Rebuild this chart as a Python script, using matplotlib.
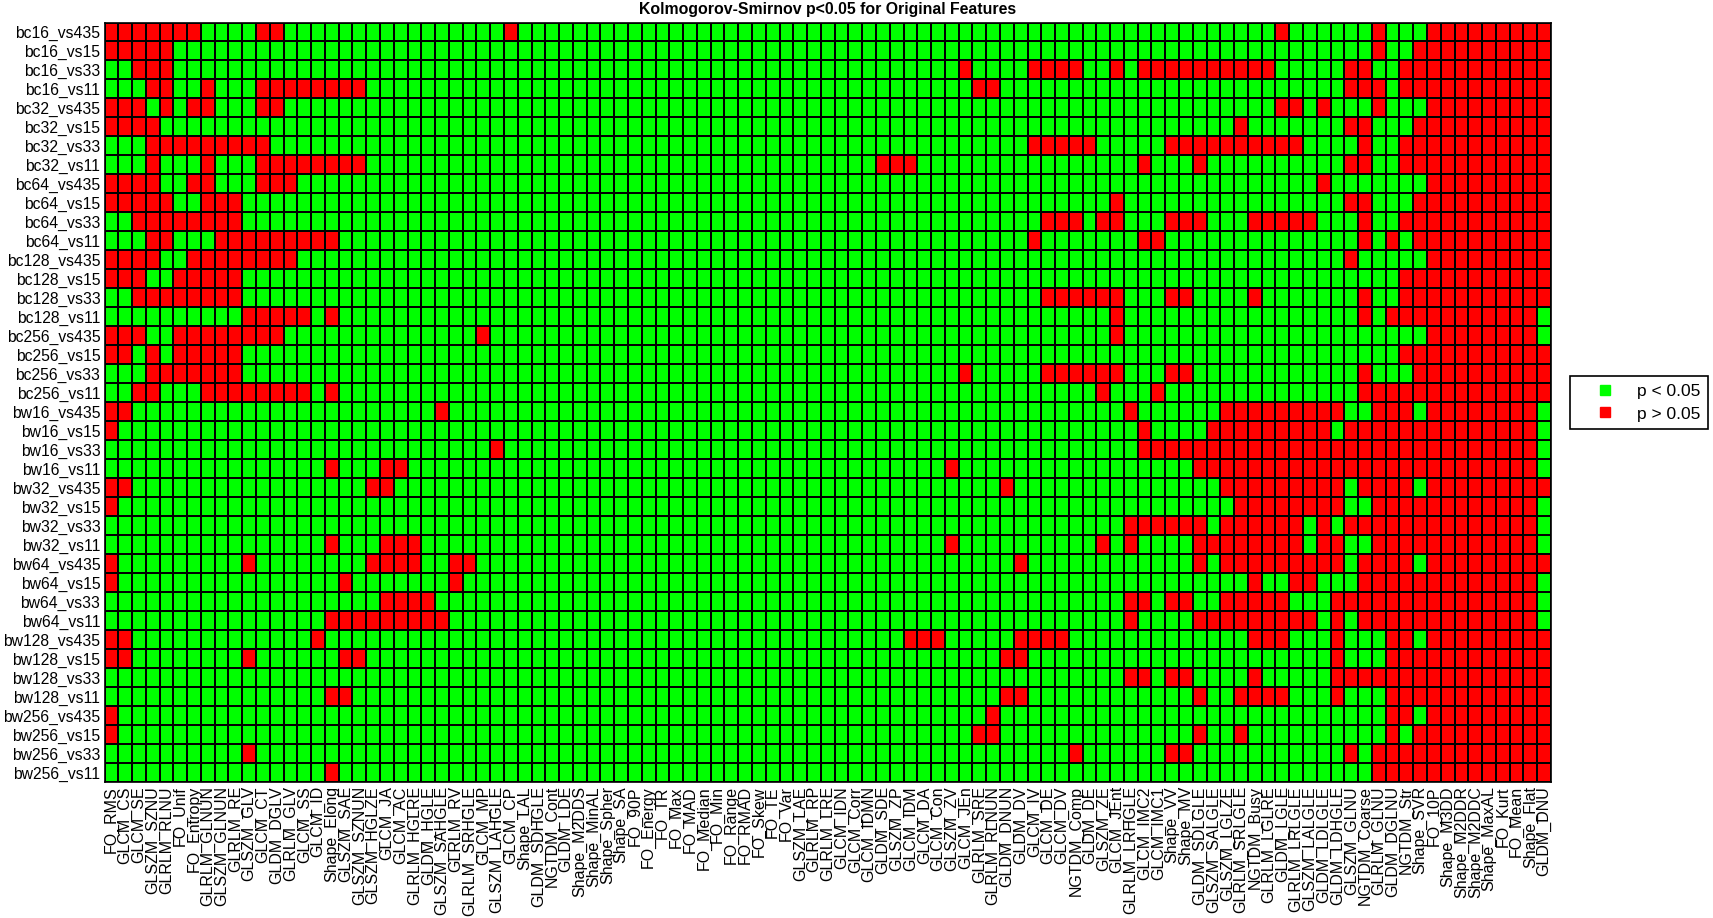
import matplotlib
matplotlib.use('Agg')
import matplotlib.pyplot as plt
from matplotlib.colors import ListedColormap
from matplotlib.lines import Line2D
import numpy as np

plt.rcParams['font.family']=['Liberation Sans','DejaVu Sans']

###################### Data ###################

features=['FO_RMS','GLCM_CS','GLCM_SE','GLSZM_SZNU','GLRLM_RLNU','FO_Unif','FO_Entropy','GLRLM_GLNUN',
          'GLSZM_GLNUN','GLRLM_RE','GLSZM_GLV','GLCM_CT','GLDM_DGLV','GLRLM_GLV','GLCM_SS','GLCM_ID',
          'Shape_Elong','GLSZM_SAE','GLSZM_SZNUN','GLSZM_HGLZE','GLCM_JA','GLCM_AC','GLRLM_HGLRE','GLDM_HGLE',
          'GLSZM_SAHGLE','GLRLM_RV','GLRLM_SRHGLE','GLCM_MP','GLSZM_LAHGLE','GLCM_CP','Shape_LAL','GLDM_SDHGLE',
          'NGTDM_Cont','GLDM_LDE','Shape_M2DDS','Shape_MinAL','Shape_Spher','Shape_SA','FO_90P','FO_Energy',
          'FO_TR','FO_Max','FO_MAD','FO_Median','FO_Min','FO_Range','FO_RMAD','FO_Skew','FO_TE','FO_Var',
          'GLSZM_LAE','GLRLM_RP','GLRLM_LRE','GLCM_IDN','GLCM_Corr','GLCM_IDMN','GLDM_SDE','GLSZM_ZP','GLCM_IDM',
          'GLCM_DA','GLCM_Con','GLSZM_ZV','GLCM_JEn','GLRLM_SRE','GLRLM_RLNUN','GLDM_DNUN','GLDM_DV','GLCM_IV',
          'GLCM_DE','GLCM_DV','NGTDM_Comp','GLDM_DE','GLSZM_ZE','GLCM_JEnt','GLRLM_LRHGLE','GLCM_IMC2','GLCM_IMC1',
          'Shape_VV','Shape_MV','GLDM_SDLGLE','GLSZM_SALGLE','GLSZM_LGLZE','GLRLM_SRLGLE','NGTDM_Busy','GLRLM_LGLRE',
          'GLDM_LGLE','GLRLM_LRLGLE','GLSZM_LALGLE','GLDM_LDLGLE','GLDM_LDHGLE','GLSZM_GLNU','NGTDM_Coarse',
          'GLRLM_GLNU','GLDM_DGLNU','NGTDM_Str','Shape_SVR','FO_10P','Shape_M3DD','Shape_M2DDR','Shape_M2DDC',
          'Shape_MaxAL','FO_Kurt','FO_Mean','Shape_Flat','GLDM_DNU']

comparisons=['bc16_vs435','bc16_vs15','bc16_vs33','bc16_vs11',
             'bc32_vs435','bc32_vs15','bc32_vs33','bc32_vs11',
             'bc64_vs435','bc64_vs15','bc64_vs33','bc64_vs11',
             'bc128_vs435','bc128_vs15','bc128_vs33','bc128_vs11',
             'bc256_vs435','bc256_vs15','bc256_vs33','bc256_vs11',
             'bw16_vs435','bw16_vs15','bw16_vs33','bw16_vs11',
             'bw32_vs435','bw32_vs15','bw32_vs33','bw32_vs11',
             'bw64_vs435','bw64_vs15','bw64_vs33','bw64_vs11',
             'bw128_vs435','bw128_vs15','bw128_vs33','bw128_vs11',
             'bw256_vs435','bw256_vs15','bw256_vs33','bw256_vs11']

#Features with p>0.05 for each comparison (1-based feature numbers, a-b is a run)
not_significant=[
    '1-7 12-13 30 86 93 97-105',
    '1-5 93 96-105',
    '3-5 63 68-71 74 76-85 91-92 95-105',
    '4-5 8 12-19 64-65 91-93 95-105',
    '1-3 5 7-8 12-13 86-87 89 93 97-105',
    '1-4 83 91-92 96-105',
    '4-12 68-72 78-87 92 95-105',
    '4 8 12-19 57-59 76 80 91-92 95-105',
    '1-4 7-8 12-14 89 97-105',
    '1-5 8-10 74 91-92 96-105',
    '3-10 69-71 73-74 78-80 84-88 92 95-105',
    '4-5 9-17 68 76-77 92 94 96-105',
    '1-4 7-14 91 97-105',
    '1-3 6-10 95-105',
    '3-10 69-74 78-79 84 92 95-105',
    '11-15 17 74 92 94-104',
    '1-3 6-13 28 74 97-104',
    '1-2 4 6-10 95-105',
    '4-10 63 69-74 78-79 92 96-105',
    '3-4 8-15 17 73 77 92-105',
    '1-2 25 75 82-90 93-95 97-104',
    '1 76 81-89 91-104',
    '29 76-104',
    '17 21-22 62 80-104',
    '1-2 20-21 66 82-90 92-95 97-105',
    '1 83-90 93-104',
    '75-80 82-87 89 91-104',
    '17 21-23 62 73 75 80-87 89-90 93-104',
    '1 11 20-23 26-27 67 80 82-90 92-95 97-105',
    '1 18 26 84 87-88 92-104',
    '21-24 75-76 78-79 82-86 90-104',
    '17-25 75 80-88 90 92-104',
    '1-2 16 59-61 67-70 84-86 90 94-95 97-105',
    '1-2 11 18-19 66-67 90 94-105',
    '75-76 78-79 84 90-105',
    '17-18 66-67 80 83-86 90 94-105',
    '1 65 94-95 97-105',
    '1 64-65 80 83 94 96-105',
    '11 71 78-79 91 93-105',
    '17 93-105',
]

#Colours
green='#00ff00'
red='#ff0000'

####################### Functions ############################
def parse_runs(text,size):
    row=np.zeros(size)
    for part in text.split():
        if '-' in part:
            a,b=part.split('-')
        else:
            a,b=part,part
        row[int(a)-1:int(b)]=1
    return row

########################## Ploting ##################################
matrix=np.array([parse_runs(t,len(features)) for t in not_significant])

W,H=1713,918
fig=plt.figure(figsize=(W/100,H/100),dpi=100)
ax=fig.add_axes([104.5/W,1-782/H,(1551-104.5)/W,(782-22.5)/H])

ax.pcolormesh(matrix,cmap=ListedColormap([green,red]),vmin=0,vmax=1,edgecolors='black',linewidth=1.1)
ax.set_xlim(0,len(features))
ax.set_ylim(len(comparisons),0)

ax.set_xticks(np.arange(len(features))+0.5)
ax.set_xticklabels(features,rotation=90,fontsize=11.5)
ax.set_yticks(np.arange(len(comparisons))+0.5)
ax.set_yticklabels(comparisons,fontsize=11.3)
ax.tick_params(length=0,pad=3)
for s in ax.spines.values():
    s.set_linewidth(1.2)

fig.text(827.5/W,1-9.5/H,'Kolmogorov-Smirnov p<0.05 for Original Features',fontsize=11.4,fontweight='bold',ha='center',va='center')

handles=[Line2D([],[],ls='',marker='s',ms=6.5,color=green,label='p < 0.05'),
         Line2D([],[],ls='',marker='s',ms=6.5,color=red,label='p > 0.05')]
leg=fig.legend(handles=handles,loc='center',bbox_to_anchor=(1639/W,1-402.5/H),fontsize=12.5,frameon=True,
               fancybox=False,edgecolor='black',framealpha=1,handletextpad=0.3,labelspacing=0.45,
               borderpad=0.45,handlelength=3.15,borderaxespad=0)
leg.get_frame().set_linewidth(1.2)

plt.savefig('out.png',dpi=100)
